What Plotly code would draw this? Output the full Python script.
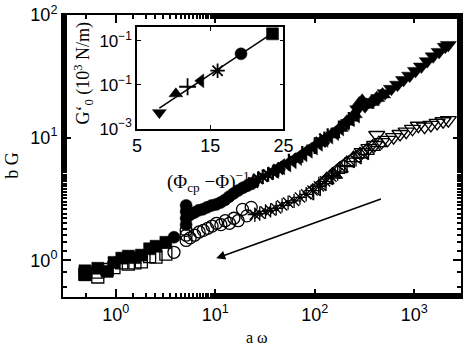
import numpy as np
import plotly.graph_objects as go

# ---------------- main plot data (a*omega, b*G) ----------------
sq_w_f = [0.49, 0.49, 0.66, 0.82, 0.96, 1.15, 1.34, 1.56, 1.81, 2.19, 2.54, 3.19]
sq_g_f = [0.76, 0.82, 0.86, 0.81, 0.96, 1.04, 1.08, 1.05, 1.10, 1.24, 1.30, 1.40]
sq_w_o = [0.49, 0.66, 0.66, 0.82, 0.96, 1.15, 1.34, 1.56, 1.81, 2.19, 2.54, 3.19]
sq_g_o = [0.77, 0.73, 0.80, 0.84, 0.87, 0.95, 0.93, 0.95, 0.97, 1.07, 1.06, 1.12]

ci_w_f = [3.85, 5.1, 5.1, 5.1, 5.1, 5.6, 6.2, 6.8, 7.5, 8.3, 9.2, 10.2, 11.3, 12.5, 13.8, 15.3, 17, 19, 21, 23.5]
ci_g_f = [1.54, 1.95, 2.2, 2.5, 2.8, 2.35, 2.45, 2.55, 2.6, 2.7, 2.8, 2.85, 2.95, 3.1, 3.3, 3.5, 3.7, 3.9, 4.05, 4.25]
ci_w_o = [3.85, 5.1, 5.1, 5.1, 5.6, 6.2, 6.9, 7.6, 8.4, 9.3, 10.3, 11.4, 12.6, 13.9, 15.4, 17, 18.8, 20.8, 23]
ci_g_o = [1.16, 1.45, 1.6, 1.75, 1.52, 1.6, 1.7, 1.75, 1.82, 1.9, 2.0, 1.95, 2.1, 2.0, 2.2, 2.1, 2.6, 2.3, 2.7]

as_w_f = [24, 27, 30, 34, 38, 43, 115, 125]
as_g_f = [4.3, 4.6, 4.8, 5.0, 5.2, 5.5, 9.2, 9.8]
as_w_o = [25, 28, 32, 36, 41, 47, 54, 62, 71, 82, 95, 110, 127, 147, 170]
as_g_o = [2.35, 2.4, 2.5, 2.55, 2.65, 2.8, 2.95, 3.05, 3.25, 3.45, 3.7, 4.0, 4.4, 4.8, 5.1]

lt_w_f = [40, 46, 53, 60, 68, 77, 87, 98, 110, 125, 140, 160, 180, 205, 230, 260]
lt_g_f = [5.4, 5.8, 6.1, 6.5, 6.9, 7.4, 7.9, 8.4, 9.0, 9.7, 10.3, 11.0, 12.0, 13.3, 14.3, 15.3]
lt_w_o = [90, 105, 120, 140, 165, 195, 230, 270, 320]
lt_g_o = [3.6, 3.9, 4.3, 4.8, 5.4, 6.0, 6.6, 7.1, 7.7]

pl_w_f = [55, 75, 100, 135, 175, 220]
pl_g_f = [6.3, 7.3, 8.6, 10.2, 11.8, 13.8]
pl_w_o = [110, 150, 200, 260]
pl_g_o = [4.1, 4.9, 5.9, 6.8]

ut_w_f = [150, 180, 210, 250, 280, 300, 330, 370, 420, 480]
ut_g_f = [10.6, 12, 13.5, 15.5, 19, 20, 18.5, 19.5, 21, 22.5]
ut_w_o = [130, 155, 180, 210, 245, 285, 330, 380, 440]
ut_g_o = [4.5, 5.0, 5.6, 6.2, 6.8, 7.3, 7.8, 8.4, 9.0]

dt_w_f = [270, 320, 380, 440, 510, 590, 680, 780, 900, 1030, 1180, 1350, 1550, 1780, 2050, 2200]
dt_g_f = [17, 18, 19.5, 21, 23, 25, 27, 29.5, 32, 35, 38, 42, 46, 50, 55, 57]
dt_w_o = [300, 350, 400, 420, 470, 540, 620, 720, 830, 960, 1100, 1270, 1470, 1700, 1950, 2200]
dt_g_o = [7.6, 8.2, 8.7, 10.5, 9.2, 9.6, 10.1, 10.7, 11.2, 11.8, 12.5, 12.3, 12.7, 13.2, 13.6, 13.9]

# ---------------- inset data ----------------
inset_x = [8.05, 10.3, 11.9, 13.7, 16.0, 19.2, 23.5]
inset_logy = [-2.27, -1.41, -1.09, -0.82, -0.36, 0.41, 1.32]
inset_symbols = ["triangle-down", "triangle-up", "cross-thin", "triangle-left",
                 "asterisk", "circle", "square"]

main_x_ticks = [1, 10, 100, 1000]
main_x_text = ["10<sup>0</sup>", "10<sup>1</sup>", "10<sup>2</sup>", "10<sup>3</sup>"]
main_y_ticks = [1, 10, 100]
main_y_text = ["10<sup>0</sup>", "10<sup>1</sup>", "10<sup>2</sup>"]
inset_x_ticks = [5, 15, 25]
inset_y_ticks = [1e-3, 1e-1, 1e1]
inset_y_text = ["10<sup>\u22123</sup>", "10<sup>\u22121</sup>", "10<sup>\u22121</sup>"]

fig = go.Figure()

series = [
    ("square", 12, sq_w_f, sq_g_f, sq_w_o, sq_g_o),
    ("circle", 12, ci_w_f, ci_g_f, ci_w_o, ci_g_o),
    ("asterisk", 12, as_w_f, as_g_f, as_w_o, as_g_o),
    ("triangle-left", 14, lt_w_f, lt_g_f, lt_w_o, lt_g_o),
    ("cross-thin", 12, pl_w_f, pl_g_f, pl_w_o, pl_g_o),
    ("triangle-up", 14, ut_w_f, ut_g_f, ut_w_o, ut_g_o),
    ("triangle-down", 14, dt_w_f, dt_g_f, dt_w_o, dt_g_o),
]
line_only = {"asterisk", "cross-thin"}
for sym, size, wf, gf, wo, go_ in series:
    if sym in line_only:
        fsym, osym = sym, sym
        fline, oline = 2.2, 1.3
    else:
        fsym, osym = sym, sym + "-open"
        fline, oline = 0.5, 1.3
    fig.add_trace(go.Scatter(x=wo, y=go_, mode="markers", showlegend=False,
                             marker=dict(symbol=osym, size=size, color="black",
                                         line=dict(color="black", width=oline))))
    fig.add_trace(go.Scatter(x=wf, y=gf, mode="markers", showlegend=False,
                             marker=dict(symbol=fsym, size=size, color="black",
                                         line=dict(color="black", width=fline))))

# inset fit line
coef = np.polyfit(inset_x, inset_logy, 1)
fx = np.array([min(inset_x), max(inset_x)])
fig.add_trace(go.Scatter(x=fx, y=10 ** (coef[0] * fx + coef[1]), mode="lines",
                         xaxis="x2", yaxis="y2", showlegend=False,
                         line=dict(color="black", width=1.5)))
for xv, ly, sym in zip(inset_x, inset_logy, inset_symbols):
    lw = 1.8 if sym in line_only else 0.5
    fig.add_trace(go.Scatter(x=[xv], y=[10 ** ly], mode="markers", xaxis="x2", yaxis="y2",
                             showlegend=False,
                             marker=dict(symbol=sym, size=12, color="black",
                                         line=dict(color="black", width=lw))))

sans = "Liberation Sans, Arial, sans-serif"
serif = "Liberation Serif, Times New Roman, serif"
tickfont = dict(family=sans, size=18, color="black")

axis_common = dict(showline=True, linewidth=2, linecolor="black", mirror="allticks",
                   ticks="inside", ticklen=8, tickwidth=1.5, tickcolor="black",
                   showgrid=False, zeroline=False, tickfont=tickfont)
minor = dict(ticks="inside", ticklen=4, tickwidth=1.5, tickcolor="black", showgrid=False)

fig.update_layout(
    width=474, height=348,
    margin=dict(l=63, r=3, t=14, b=51),
    paper_bgcolor="white", plot_bgcolor="white",
    xaxis=dict(type="log", range=[-0.53, 3.47], tickvals=main_x_ticks, ticktext=main_x_text,
               minor=minor, **axis_common),
    yaxis=dict(type="log", range=[-0.30, 2.0], tickvals=main_y_ticks, ticktext=main_y_text,
               minor=minor, **axis_common),
    xaxis2=dict(domain=[0.186, 0.554], anchor="y2", range=[5, 25], tickvals=inset_x_ticks,
                showline=True, linewidth=1.5, linecolor="black", mirror="allticks",
                ticks="inside", ticklen=4, tickwidth=1.2, tickcolor="black",
                showgrid=False, zeroline=False,
                tickfont=dict(family=sans, size=18, color="black")),
    yaxis2=dict(domain=[0.597, 0.958], anchor="x2", type="log", range=[-3, 1.64],
                tickvals=inset_y_ticks, ticktext=inset_y_text,
                showline=True, linewidth=1.5, linecolor="black", mirror="allticks",
                ticks="inside", ticklen=4, tickwidth=1.2, tickcolor="black",
                showgrid=False, zeroline=False,
                tickfont=dict(family=sans, size=17, color="black")),
)

annotations = [
    dict(text="b G", x=-0.13, y=0.466, xref="paper", yref="paper", textangle=-90,
         xanchor="center", yanchor="middle",
         showarrow=False, font=dict(family=serif, size=18, color="black")),
    dict(text="a \u03c9", x=0.488, y=-0.143, xref="paper", yref="paper",
         xanchor="center", yanchor="middle",
         showarrow=False, font=dict(family=serif, size=16, color="black")),
    dict(text="(\u03a6<sub>cp</sub> \u2212\u03a6)<sup>\u22121</sup>", x=0.365, y=0.41,
         xref="paper", yref="paper", showarrow=False, xanchor="center", yanchor="middle",
         font=dict(family=serif, size=19, color="black")),
    dict(text="G\u2018<sub>0</sub> (10<sup>3</sup> N/m)", x=0.052, y=0.795,
         xref="paper", yref="paper", textangle=-90, showarrow=False,
         xanchor="center", yanchor="middle",
         font=dict(family=serif, size=18, color="black")),
    dict(x=1.01, y=0.016, ax=2.68, ay=0.504, xref="x", yref="y", axref="x", ayref="y",
         text="", showarrow=True, arrowhead=2, arrowsize=1.2, arrowwidth=1.5,
         arrowcolor="black"),
]
fig.update_layout(annotations=annotations)

fig.write_html("out.html")
